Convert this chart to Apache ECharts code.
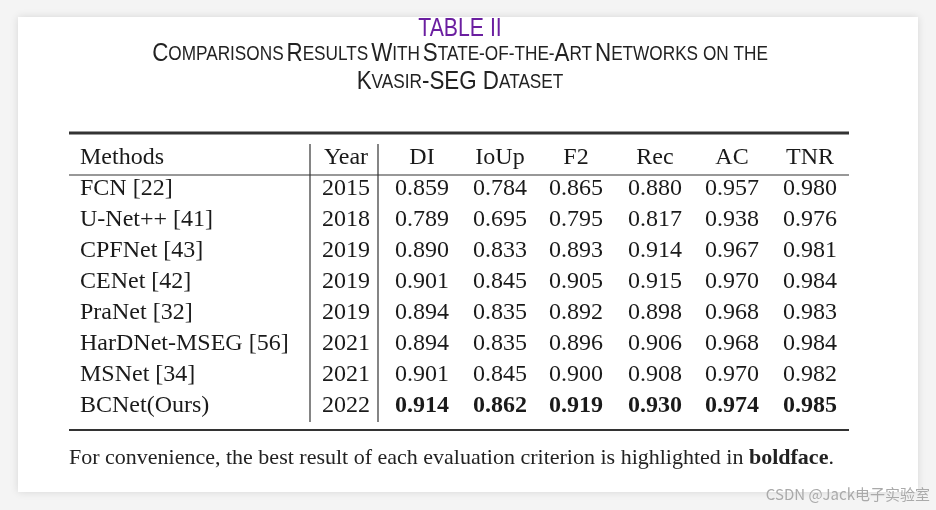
<!DOCTYPE html><html><head><meta charset="utf-8">
<script src="https://cdn.jsdelivr.net/npm/echarts@6/dist/echarts.min.js"></script>
<style>html,body{margin:0;padding:0;background:#f4f4f4}#c{width:936px;height:510px}</style></head><body>
<div id="c"></div>
<script>
var headers = ['Methods','Year','DI','IoUp','F2','Rec','AC','TNR'];
var methods = ['FCN [22]','U-Net++ [41]','CPFNet [43]','CENet [42]','PraNet [32]','HarDNet-MSEG [56]','MSNet [34]','BCNet(Ours)'];
var years = ['2015','2018','2019','2019','2019','2021','2021','2022'];
var DI   = ['0.859','0.789','0.890','0.901','0.894','0.894','0.901','0.914'];
var IoUp = ['0.784','0.695','0.833','0.845','0.835','0.835','0.845','0.862'];
var F2   = ['0.865','0.795','0.893','0.905','0.892','0.896','0.900','0.919'];
var Rec  = ['0.880','0.817','0.914','0.915','0.898','0.906','0.908','0.930'];
var AC   = ['0.957','0.938','0.967','0.970','0.968','0.968','0.970','0.974'];
var TNR  = ['0.980','0.976','0.981','0.984','0.983','0.984','0.982','0.985'];
var boldRow = 7;

var colPos = [11, 277, 353, 431, 507, 586, 663, 741]; // x positions in table units
var colAlign = ['left','center','center','center','center','center','center','center'];
var rows = ['h'].concat(methods);
var cols = [methods, years, DI, IoUp, F2, Rec, AC, TNR];
var data = [];
headers.forEach(function(h,c){ data.push([colPos[c],0,h,0,colAlign[c]]); });
for (var r=0;r<methods.length;r++) for (var c=0;c<cols.length;c++)
  data.push([colPos[c], r+1, cols[c][r], (r===boldRow && c>=2)?1:0, colAlign[c]]);

var chart = echarts.init(document.getElementById('c'));
var serif = '"Liberation Serif","DejaVu Serif",serif';
var sc = '"Liberation Sans","Liberation Sans",sans-serif';
chart.setOption({
  animation:false,
  grid:{left:69,right:87,top:142.5,height:279,containLabel:false},
  xAxis:{type:'value',min:0,max:780,show:false},
  yAxis:{type:'category',data:rows,inverse:true,show:false},
  graphic:[
    {type:'rect',shape:{x:18,y:17,width:900,height:475},style:{fill:'#fff',shadowBlur:8,shadowColor:'rgba(0,0,0,0.12)'},z:-10},
    {type:'text',x:460,y:29,scaleX:0.85,style:{text:'TABLE II',font:'25px '+sc,fill:'#6b1fa0',align:'center',verticalAlign:'middle'}},
    {type:'text',x:460,y:54,scaleX:0.86,style:{text:'{b|C}{s|OMPARISONS} {b|R}{s|ESULTS} {b|W}{s|ITH} {b|S}{s|TATE-OF-THE-}{b|A}{s|RT} {b|N}{s|ETWORKS ON THE}',align:'center',verticalAlign:'middle',fill:'#222',
      rich:{b:{font:'26px '+sc,fill:'#222'},s:{font:'20px '+sc,fill:'#222'}}}},
    {type:'text',x:460,y:82,scaleX:0.86,style:{text:'{b|K}{s|VASIR}{b|-SEG D}{s|ATASET}',align:'center',verticalAlign:'middle',fill:'#222',
      rich:{b:{font:'26px '+sc,fill:'#222'},s:{font:'20px '+sc,fill:'#222'}}}},
    {type:'line',shape:{x1:69,y1:133,x2:849,y2:133},style:{stroke:'#333',lineWidth:3}},
    {type:'line',shape:{x1:69,y1:175,x2:849,y2:175},style:{stroke:'#333',lineWidth:1.2}},
    {type:'line',shape:{x1:69,y1:430,x2:849,y2:430},style:{stroke:'#333',lineWidth:2}},
    {type:'line',shape:{x1:310,y1:144,x2:310,y2:422},style:{stroke:'#333',lineWidth:1.2}},
    {type:'line',shape:{x1:378,y1:144,x2:378,y2:422},style:{stroke:'#333',lineWidth:1.2}},
    {type:'text',x:69,y:458,style:{text:'For convenience, the best result of each evaluation criterion is highlighted in {bb|boldface}.',verticalAlign:'middle',font:'22px '+serif,fill:'#222',
      rich:{bb:{font:'bold 22px '+serif,fill:'#222'}}}},
    {type:'text',x:930,y:494,style:{text:'CSDN @Jack电子实验室',align:'right',verticalAlign:'middle',font:'15px "Noto Sans CJK SC",sans-serif',fill:'#aaa'}}
  ],
  series:[{type:'custom',coordinateSystem:'cartesian2d',data:data,
    renderItem:function(p,api){
      var d=data[p.dataIndex];
      var pt=api.coord([d[0],d[1]]);
      return {type:'text',x:pt[0],y:pt[1],style:{text:d[2],align:d[4],verticalAlign:'middle',
        font:(d[3]?'bold ':'')+'24px '+serif,fill:'#1a1a1a'}};
    }}]
});
</script></body></html>
